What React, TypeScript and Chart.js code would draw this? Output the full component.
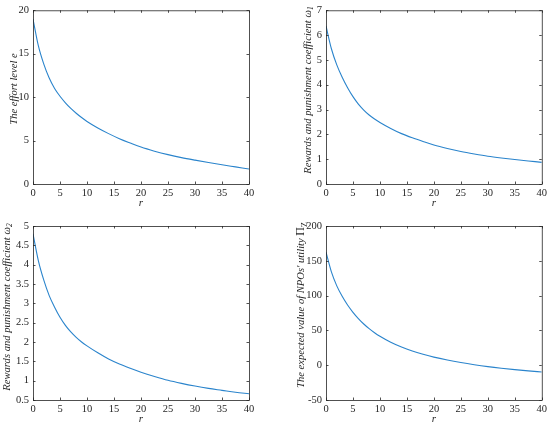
import React, { useEffect, useRef } from "react";
import { Chart, registerables } from "chart.js";

Chart.register(...registerables);

// r values shared by all four panels
const R_VALUES = [0, 1, 2, 3, 4, 5, 6, 7, 8, 9, 10, 12, 14, 16, 18, 20, 22.5, 25, 27.5, 30, 32.5, 35, 37.5, 40];

const EFFORT = [19.0, 15.9, 13.8, 12.2, 11.0, 10.1, 9.35, 8.7, 8.15, 7.65, 7.2, 6.45, 5.8, 5.22, 4.72, 4.25, 3.78, 3.38, 3.04, 2.75, 2.48, 2.22, 1.97, 1.72];
const OMEGA1 = [6.37, 5.45, 4.8, 4.3, 3.88, 3.52, 3.22, 2.98, 2.78, 2.62, 2.48, 2.24, 2.03, 1.86, 1.71, 1.57, 1.43, 1.31, 1.21, 1.12, 1.05, 0.99, 0.93, 0.87];
const OMEGA2 = [4.8, 4.1, 3.6, 3.2, 2.9, 2.64, 2.43, 2.26, 2.12, 2.0, 1.9, 1.72, 1.56, 1.43, 1.32, 1.22, 1.11, 1.01, 0.93, 0.86, 0.8, 0.75, 0.7, 0.66];
const UTILITY = [162.4, 134, 114, 99, 86.5, 76, 67, 59.2, 52.5, 46.7, 41.6, 33, 26.1, 20.4, 15.7, 11.6, 7.4, 3.8, 0.7, -2, -4.3, -6.3, -8.1, -9.7];

const X_LABEL = "r";
const Y_TICKS = {
  effort: { min: 0, max: 20, step: 5 },
  omega1: { min: 0, max: 7, step: 1 },
  omega2: { min: 0.5, max: 5, step: 0.5 },
  utility: { min: -50, max: 200, step: 50 },
};

const SERIF = '"Liberation Serif", "Times New Roman", serif';
const AXIS_COLOR = "#262626";
const LINE_COLOR = "#2a84cc";

type Part = { text: string; font: string; dy?: number };

const drawRotated = (ctx: CanvasRenderingContext2D, cx: number, cy: number, parts: Part[]) => {
  ctx.save();
  let total = 0;
  const widths = parts.map((p) => {
    ctx.font = p.font;
    const w = ctx.measureText(p.text).width;
    total += w;
    return w;
  });
  ctx.translate(cx, cy);
  ctx.rotate(-Math.PI / 2);
  ctx.fillStyle = AXIS_COLOR;
  ctx.textBaseline = "middle";
  ctx.textAlign = "left";
  let x = -total / 2;
  parts.forEach((p, i) => {
    ctx.font = p.font;
    ctx.fillText(p.text, x, p.dy || 0);
    x += widths[i];
  });
  ctx.restore();
};

const boxPlugin = (labelX: number, labelY: number, yLabel: Part[]) => ({
  id: "matlabBox",
  afterDraw(chart: any) {
    const { ctx, chartArea } = chart;
    const { left, right, top, bottom } = chartArea;
    const xs = chart.scales.x;
    const ys = chart.scales.y;
    const tl = 2.5;
    ctx.save();
    ctx.strokeStyle = AXIS_COLOR;
    ctx.lineWidth = 0.8;
    ctx.strokeRect(left + 0.5, top + 0.5, right - left, bottom - top);
    ctx.beginPath();
    xs.ticks.forEach((t: any) => {
      const px = Math.round(xs.getPixelForValue(t.value)) + 0.5;
      ctx.moveTo(px, bottom);
      ctx.lineTo(px, bottom - tl);
      ctx.moveTo(px, top);
      ctx.lineTo(px, top + tl);
    });
    ys.ticks.forEach((t: any) => {
      const py = Math.round(ys.getPixelForValue(t.value)) + 0.5;
      ctx.moveTo(left, py);
      ctx.lineTo(left + tl, py);
      ctx.moveTo(right, py);
      ctx.lineTo(right - tl, py);
    });
    ctx.stroke();
    ctx.fillStyle = AXIS_COLOR;
    ctx.font = `italic 11px ${SERIF}`;
    ctx.textAlign = "center";
    ctx.textBaseline = "middle";
    ctx.fillText(X_LABEL, (left + right) / 2, bottom + 19);
    ctx.restore();
    drawRotated(ctx, labelX, labelY, yLabel);
  },
});

type PanelProps = {
  values: number[];
  ticks: { min: number; max: number; step: number };
  left: number;
  top: number;
  area: { l: number; r: number; t: number; b: number };
  labelX: number;
  labelY: number;
  yLabel: Part[];
};

const W = 275;
const H = 215;

const Panel = ({ values, ticks, left, top, area, labelX, labelY, yLabel }: PanelProps) => {
  const canvasRef = useRef<HTMLCanvasElement>(null);

  useEffect(() => {
    let chart: Chart | null = null;
    let cancelled = false;
    const build = () => {
      const ctx = canvasRef.current?.getContext("2d");
      if (!ctx || cancelled) return;
      const tickFont = { family: SERIF, size: 10.5 };
      chart = new Chart(ctx, {
        type: "line",
        data: {
          datasets: [
            {
              data: R_VALUES.map((r, i) => ({ x: r, y: values[i] })),
              borderColor: LINE_COLOR,
              borderWidth: 1.1,
              pointRadius: 0,
              cubicInterpolationMode: "monotone",
              fill: false,
            },
          ],
        },
        options: {
          animation: false,
          responsive: false,
          layout: { padding: { left: 0, top: area.t, right: W - area.r, bottom: 0 } },
          plugins: { legend: { display: false }, tooltip: { enabled: false } },
          scales: {
            x: {
              type: "linear",
              min: 0,
              max: 40,
              ticks: { stepSize: 5, font: tickFont, color: AXIS_COLOR, padding: 3, maxRotation: 0, autoSkip: false },
              grid: { display: false, drawTicks: false },
              border: { display: false },
              afterFit: (s: any) => {
                s.height = H - area.b;
              },
            },
            y: {
              type: "linear",
              min: ticks.min,
              max: ticks.max,
              ticks: {
                stepSize: ticks.step,
                font: tickFont,
                color: AXIS_COLOR,
                padding: 4,
                autoSkip: false,
                callback: (v: any) => String(Math.round(Number(v) * 100) / 100),
              },
              grid: { display: false, drawTicks: false },
              border: { display: false },
              afterFit: (s: any) => {
                s.width = area.l;
              },
            },
          },
        } as any,
        plugins: [boxPlugin(labelX, labelY, yLabel)],
      });
    };
    const fonts = (document as any).fonts;
    if (fonts && fonts.load) {
      Promise.all([
        fonts.load('10px "Liberation Serif"'),
        fonts.load('italic 10px "Liberation Serif"'),
      ])
        .catch(() => null)
        .then(build);
    } else {
      build();
    }
    return () => {
      cancelled = true;
      if (chart) chart.destroy();
    };
  }, [values, ticks, area, labelX, labelY, yLabel]);

  return (
    <div style={{ position: "absolute", left, top, width: W, height: H }}>
      <canvas ref={canvasRef} width={W} height={H} style={{ display: "block" }} />
    </div>
  );
};

const it = `italic 10.6px ${SERIF}`;
const sub = `italic 7.5px ${SERIF}`;

export default function App() {
  return (
    <div style={{ position: "absolute", left: 0, top: 0, width: 550, height: 430, background: "#fff", fontFamily: SERIF }}>
      <Panel
        values={EFFORT}
        ticks={Y_TICKS.effort}
        left={0}
        top={0}
        area={{ l: 33, r: 249, t: 10, b: 184 }}
        labelX={14}
        labelY={89}
        yLabel={[{ text: "The effort level e", font: it }]}
      />
      <Panel
        values={OMEGA1}
        ticks={Y_TICKS.omega1}
        left={275}
        top={0}
        area={{ l: 51, r: 267, t: 10, b: 184 }}
        labelX={33}
        labelY={90}
        yLabel={[
          { text: "Rewards and punishment coefficient ω", font: it },
          { text: "1", font: sub, dy: 3.5 },
        ]}
      />
      <Panel
        values={OMEGA2}
        ticks={Y_TICKS.omega2}
        left={0}
        top={215}
        area={{ l: 33, r: 249, t: 11, b: 185 }}
        labelX={7}
        labelY={92}
        yLabel={[
          { text: "Rewards and punishment coefficient ω", font: it },
          { text: "2", font: sub, dy: 3.5 },
        ]}
      />
      <Panel
        values={UTILITY}
        ticks={Y_TICKS.utility}
        left={275}
        top={215}
        area={{ l: 51, r: 267, t: 11, b: 185 }}
        labelX={26}
        labelY={90}
        yLabel={[
          { text: "The expected value of NPOs' utility ", font: it },
          { text: "Π", font: `12px ${SERIF}` },
          { text: "Z", font: `8px ${SERIF}`, dy: 3.5 },
        ]}
      />
    </div>
  );
}
